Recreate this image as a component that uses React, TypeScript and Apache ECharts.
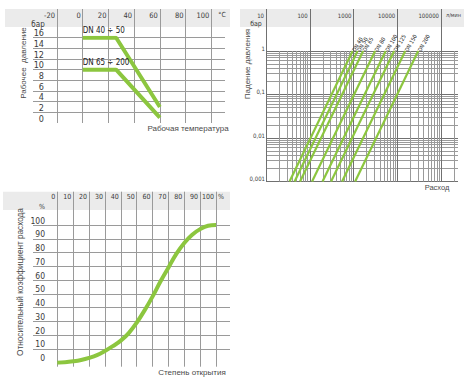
import React, { useEffect, useRef } from 'react';
import * as echarts from 'echarts';

// ---------- Chart 1: working pressure vs temperature ----------
const tempTicks = [-20, 0, 20, 40, 60, 80, 100];
const pressureTicks = [0, 2, 4, 6, 8, 10, 12, 14, 16];
const seriesA1Name = 'DN 40 ÷ 50';
const seriesA1Temp = [0, 26, 60];
const seriesA1Bar = [16, 16, 3];
const seriesA2Name = 'DN 65 ÷ 200';
const seriesA2Temp = [0, 26, 60];
const seriesA2Bar = [10, 10, 1];

// ---------- Chart 2: pressure drop vs flow (log-log) ----------
const flowDecades = [10, 100, 1000, 10000, 100000];
const flowLabels = ['10', '100', '1000', '10000', '100000'];
const dropDecades = [0.001, 0.01, 0.1, 1];
const dropLabels = ['0,001', '0,01', '0,1', '1'];
const dnNames = ['DN 40', 'DN 50', 'DN 65', 'DN 80', 'DN 100', 'DN 125', 'DN 150', 'DN 200'];
const flowAtLowDrop = [34.5, 45, 60, 113, 196, 307, 548, 1090]; // l/min at 0,001 bar
const flowAtHighDrop = [953, 1240, 1660, 3120, 5430, 8490, 15200, 30100]; // l/min at 1 bar
const dropEnds = [0.001, 1];

// ---------- Chart 3: relative flow coefficient vs opening ----------
const openingPct = [0, 5, 10, 15, 20, 25, 30, 35, 40, 45, 50, 55, 60, 65, 70, 75, 80, 85, 90, 95, 100];
const kvPct = [0, 0.3, 1, 2, 3.5, 5.5, 8.5, 12, 16, 21.5, 29, 38, 48, 59, 69, 79, 87, 93, 97, 99.5, 100];

const GREEN = '#8cc63f';
const TEXT = '#3a3a3a';
const TITLE = '#4a4a4a';
const GRIDC = '#9a9a9a';
const DARK = '#707070';
const BAND = '#ebebeb';
const NARROW = '"Liberation Sans Narrow", "DejaVu Sans Condensed", "Liberation Sans", sans-serif';
const SANS = '"Liberation Sans", Arial, sans-serif';

// minor log grid values (grid decoration, not data)
const minorValues = (from: number, to: number) => {
  const out: number[] = [];
  for (let e = from; e <= to; e++) {
    for (let k = 1; k <= 9; k++) out.push(+(k * Math.pow(10, e)).toPrecision(6));
  }
  return out;
};

function buildOption() {
  // chart 1 layout
  const c1L = 57, c1R = 211.3, c1Top = 9, c1Bot = 123, c1HL = 33, c1HR = 225, c1YTop = 37.7;
  const px1 = (c1R - c1L) / (tempTicks[tempTicks.length - 1] - tempTicks[0]);
  const x1Min = tempTicks[0] - (c1L - c1HL) / px1;
  const x1Max = tempTicks[tempTicks.length - 1] + (c1HR - c1R) / px1;

  // chart 2 layout
  const c2L = 266, c2R = 441, c2Top = 9, c2Bot = 181.5, c2HR = 458, c2YTop = 51;
  const dec2 = (c2R - c2L) / 4;
  const x2Max = Math.pow(10, 1 + (c2HR - c2L) / dec2);
  const xMinor = minorValues(1, 4).concat([100000, 200000]);
  const yMinor = minorValues(-3, -1).concat([1]);

  // chart 3 layout
  const c3L = 57.3, c3R = 216, c3Top = 191.7, c3Bot = 366.7, c3HL = 33, c3HR = 230, c3YTop = 225, c3YBot = 362.7;
  const px3 = (c3R - c3L) / 100;
  const x3Min = 0 - (c3L - c3HL) / px3;
  const x3Max = 100 + (c3HR - c3R) / px3;

  const noLine = { show: false };
  const topLabel = (fontSize: number, formatter?: any) => ({
    show: true,
    inside: true,
    margin: 6,
    align: 'right',
    verticalAlign: 'middle',
    padding: [0, 2, 0, 0],
    fontSize,
    fontFamily: NARROW,
    color: TEXT,
    showMinLabel: true,
    showMaxLabel: true,
    ...(formatter ? { formatter } : {}),
  });

  const findLabel = (vals: number[], labels: string[]) => (v: number) => {
    const i = vals.findIndex((d) => Math.abs(Math.log10(d) - Math.log10(v)) < 1e-6);
    return i >= 0 ? labels[i] : '';
  };

  const grid = [
    { left: c1L, top: c1Top, width: c1R - c1L, height: c1Bot - c1Top },
    { left: c1HL, top: c1YTop, width: c1HR - c1HL, height: c1Bot - c1YTop },
    { left: c2L, top: c2Top, width: c2R - c2L, height: c2Bot - c2Top },
    { left: c2L, top: c2YTop, width: c2HR - c2L, height: c2Bot - c2YTop },
    { left: c3L, top: c3Top, width: c3R - c3L, height: c3Bot - c3Top },
    { left: c3HL, top: c3YTop, width: c3HR - c3HL, height: c3YBot - c3YTop },
  ].map((g) => ({ ...g, containLabel: false, outerBoundsMode: 'none' }));

  const xAxis: any[] = [
    {
      gridIndex: 0, type: 'value', position: 'top',
      min: tempTicks[0], max: tempTicks[tempTicks.length - 1], interval: 20,
      axisLine: noLine, axisTick: noLine,
      axisLabel: topLabel(7.5),
      splitLine: { show: true, lineStyle: { color: GRIDC, width: 1 } },
    },
    { gridIndex: 1, type: 'value', show: false, min: x1Min, max: x1Max },
    {
      gridIndex: 2, type: 'log', logBase: 10, position: 'top',
      min: flowDecades[0], max: flowDecades[flowDecades.length - 1],
      axisLine: noLine, axisTick: noLine,
      axisLabel: topLabel(6, findLabel(flowDecades, flowLabels)),
      splitLine: { show: true, lineStyle: { color: DARK, width: 1 } },
    },
    {
      gridIndex: 3, type: 'log', logBase: 10, min: flowDecades[0], max: x2Max,
      axisLine: noLine,
      axisTick: { show: false, customValues: xMinor },
      axisLabel: { show: false },
      splitLine: {
        show: true,
        lineStyle: { color: [DARK, GRIDC, GRIDC, GRIDC, GRIDC, GRIDC, GRIDC, GRIDC, GRIDC], width: 1 },
      },
    },
    {
      gridIndex: 4, type: 'value', position: 'top', min: 0, max: 100, interval: 10,
      axisLine: noLine, axisTick: noLine,
      axisLabel: { ...topLabel(7), margin: 5 },
      splitLine: { show: true, lineStyle: { color: GRIDC, width: 1 } },
    },
    { gridIndex: 5, type: 'value', show: false, min: x3Min, max: x3Max },
  ];

  const yAxis: any[] = [
    { gridIndex: 0, type: 'value', show: false, min: 0, max: 1 },
    {
      gridIndex: 1, type: 'value', min: pressureTicks[0], max: pressureTicks[pressureTicks.length - 1], interval: 2,
      axisLine: noLine, axisTick: noLine,
      axisLabel: {
        inside: true, margin: 11, align: 'right', verticalAlign: 'bottom',
        fontSize: 9, fontFamily: NARROW, color: TEXT, showMinLabel: true, showMaxLabel: true,
      },
      splitLine: { show: true, showMinLine: false, lineStyle: { color: GRIDC, width: 1 } },
    },
    { gridIndex: 2, type: 'value', show: false, min: 0, max: 1 },
    {
      gridIndex: 3, type: 'log', logBase: 10, min: dropEnds[0], max: dropEnds[1],
      axisLine: noLine,
      axisTick: { show: false, customValues: yMinor },
      axisLabel: {
        customValues: dropDecades,
        margin: 1, align: 'right', verticalAlign: 'bottom',
        fontSize: 6, fontFamily: NARROW, color: TEXT, showMinLabel: true, showMaxLabel: true,
        formatter: findLabel(dropDecades, dropLabels),
      },
      splitLine: {
        show: true,
        lineStyle: { color: [DARK, GRIDC, GRIDC, GRIDC, GRIDC, GRIDC, GRIDC, GRIDC, GRIDC], width: 1 },
      },
    },
    { gridIndex: 4, type: 'value', show: false, min: 0, max: 1 },
    {
      gridIndex: 5, type: 'value', min: 0, max: 100, interval: 10,
      axisLine: noLine, axisTick: noLine,
      axisLabel: {
        inside: true, margin: 12, align: 'right', verticalAlign: 'bottom',
        fontSize: 8.5, fontFamily: NARROW, color: TEXT, showMinLabel: true, showMaxLabel: true,
      },
      splitLine: { show: true, showMinLine: false, lineStyle: { color: GRIDC, width: 1 } },
    },
  ];

  const pressureSeries = (name: string, temps: number[], bars: number[]) => ({
    type: 'line', name, xAxisIndex: 1, yAxisIndex: 1,
    symbolSize: 0, showSymbol: true, silent: true,
    lineStyle: { color: GREEN, width: 4 },
    itemStyle: { color: GREEN },
    data: temps.map((t, i) =>
      i === 0
        ? {
            value: [t, bars[i]],
            label: {
              show: true, formatter: name, position: 'top', align: 'left', distance: 3,
              fontSize: 8, fontFamily: NARROW, color: '#222',
            },
          }
        : { value: [t, bars[i]] }
    ),
  });

  const flowSeries = dnNames.map((name, i) => ({
    type: 'line', name, xAxisIndex: 3, yAxisIndex: 3,
    symbolSize: 0, showSymbol: true, silent: true,
    lineStyle: { color: GREEN, width: 2.2 },
    itemStyle: { color: GREEN },
    data: [
      { value: [flowAtLowDrop[i], dropEnds[0]] },
      {
        value: [flowAtHighDrop[i], dropEnds[1]],
        label: {
          show: true, formatter: name, position: 'right', rotate: 60, distance: 1,
          fontSize: 5.5, fontFamily: NARROW, color: '#222',
        },
      },
    ],
  }));

  const kvSeries = {
    type: 'line', name: 'kv', xAxisIndex: 5, yAxisIndex: 5,
    smooth: 0.4, showSymbol: false, silent: true,
    lineStyle: { color: GREEN, width: 4 },
    data: openingPct.map((o, i) => [o, kvPct[i]]),
  };

  const txt = (text: string, x: number, y: number, fontSize: number, extra: any = {}) => ({
    type: 'text', x, y, silent: true, ...extra,
    style: {
      text, fill: extra.fill || TITLE, fontSize, fontFamily: extra.fontFamily || SANS,
      align: extra.align || 'center', verticalAlign: 'middle',
      textAlign: extra.align || 'center', textVerticalAlign: 'middle',
    },
  });

  const graphic = [
    { type: 'rect', z: -10, silent: true, shape: { x: 5, y: 9, width: 225, height: 18 }, style: { fill: BAND } },
    { type: 'rect', z: -10, silent: true, shape: { x: 240, y: 9, width: 224, height: 18 }, style: { fill: BAND } },
    { type: 'rect', z: -10, silent: true, shape: { x: 3, y: 191.7, width: 227, height: 18.3 }, style: { fill: BAND } },
    txt('°C', 222, 15, 7, { fill: TEXT, fontFamily: NARROW }),
    txt('бар', 38, 24, 8, { fill: TEXT, fontFamily: NARROW }),
    txt('Рабочее  давление', 23, 63, 8, { rotation: Math.PI / 2 }),
    txt('Рабочая температура', 188, 128.5, 8),
    txt('л/мин', 446, 15, 5.5, { fill: TEXT, fontFamily: NARROW, align: 'left' }),
    txt('бар', 256, 24, 7, { fill: TEXT, fontFamily: NARROW }),
    txt('Падение давления', 247, 64, 8, { rotation: Math.PI / 2 }),
    txt('Расход', 437, 187, 7.5),
    txt('%', 221, 196.7, 7, { fill: TEXT, fontFamily: NARROW }),
    txt('%', 42, 207, 7, { fill: TEXT, fontFamily: NARROW }),
    txt('Относительный коэффициент расхода', 20, 282, 8.2, { rotation: Math.PI / 2 }),
    txt('Степень открытия', 192, 372, 8),
  ];

  return {
    animation: false,
    backgroundColor: '#ffffff',
    grid,
    xAxis,
    yAxis,
    graphic,
    series: [
      pressureSeries(seriesA1Name, seriesA1Temp, seriesA1Bar),
      pressureSeries(seriesA2Name, seriesA2Temp, seriesA2Bar),
      ...flowSeries,
      kvSeries,
    ],
  };
}

export default function App() {
  const ref = useRef<HTMLDivElement>(null);
  useEffect(() => {
    if (!ref.current) return;
    const chart = echarts.init(ref.current, null, { renderer: 'svg' });
    chart.setOption(buildOption() as any);
    return () => chart.dispose();
  }, []);
  return (
    <div
      ref={ref}
      style={{ position: 'fixed', left: 0, top: 0, width: 474, height: 380, background: '#fff' }}
    />
  );
}
